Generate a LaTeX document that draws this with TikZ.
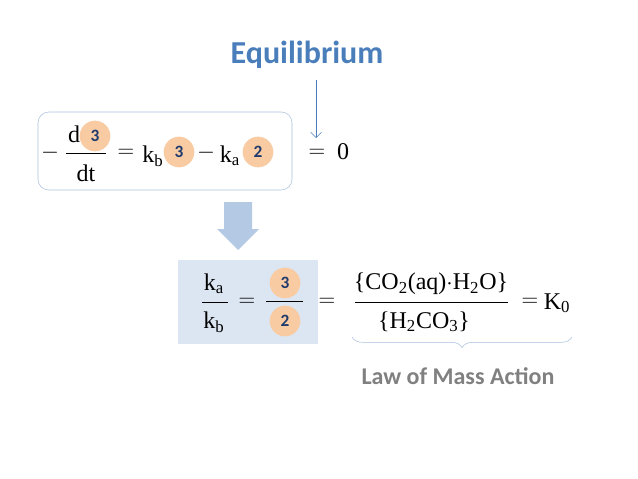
\documentclass[tikz,border=0pt]{standalone}
\usepackage{fontspec}
\setmainfont{Liberation Serif}
\newfontfamily\calib{Carlito}
\usetikzlibrary{arrows.meta,decorations.pathreplacing}
\definecolor{titleblue}{HTML}{4A7EBB}
\definecolor{ballfill}{HTML}{F9CBA2}
\definecolor{balltext}{HTML}{1F3B6E}
\definecolor{boxline}{HTML}{A9C1DE}
\definecolor{shadebox}{HTML}{DCE6F2}
\definecolor{blockarrow}{HTML}{B4C9E3}
\tikzset{
  ball/.style={circle,fill=ballfill,minimum size=23pt,inner sep=0pt,
    font=\calib\bfseries\fontsize{13}{13}\selectfont,text=balltext},
  eq/.style={inner sep=0pt,font=\fontsize{18}{18}\selectfont},
}
\begin{document}
\begin{tikzpicture}[x=0.75pt,y=-0.75pt]
	\useasboundingbox (0,0) rectangle (638,478);
	% title and pointer
	\node[font=\calib\bfseries\fontsize{24}{24}\selectfont,text=titleblue] (title) at (307,55) {Equilibrium};
	\coordinate (ptop) at (316,80);
	\coordinate (pend) at (316,138);
	\draw[titleblue,thin,-{Straight Barb[length=4pt]}] (ptop) -- (pend);
	% rate equation
	\draw[boxline,rounded corners=8pt] (38,112) rectangle (292,190);
	\node[eq] (minus1) at (50,153) {$-$};
	\node[eq] (d) at (74,134) {d};
	\node[eq] (dt) at (86,173) {dt};
	\draw[thin] (66,153) -- (106,153);
	\node[ball] (c1) at (95,136) {3};
	\node[eq] (eq1) at (126,153) {$=$};
	\node[eq] (kb) at (153,156) {k\textsubscript{b}};
	\node[ball] (c2) at (179,152) {3};
	\node[eq] (minus2) at (206,153) {$-$};
	\node[eq] (ka) at (230,156) {k\textsubscript{a}};
	\node[ball] (c3) at (258,152) {2};
	\node[eq] (eq2) at (317,153) {$=$};
	\node[eq] (zero) at (343,152) {0};
	% block arrow
	\fill[blockarrow] (224,202) -- (252,202) -- (252,229) -- (259,229) -- (238,250)
	  -- (217,229) -- (224,229) -- cycle;
	% equilibrium constant
	\fill[shadebox] (178,260) rectangle (318,344);
	\node[eq] (ka2) at (214,284) {k\textsubscript{a}};
	\node[eq] (kb2) at (214,322) {k\textsubscript{b}};
	\draw[thin] (202,302) -- (228,302);
	\node[eq] (eq3) at (247,302) {$=$};
	\draw[thin] (266,301) -- (303,301);
	\node[ball] (c4) at (285,283) {3};
	\node[ball] (c5) at (285,321) {2};
	\node[eq] (eq4) at (327,302) {$=$};
	\node[eq] (num) at (431,284) {\{CO\textsubscript{2}(aq)$\cdot$H\textsubscript{2}O\}};
	\node[eq] (den) at (424,322) {\{H\textsubscript{2}CO\textsubscript{3}\}};
	\draw[thin] (355,302) -- (508,302);
	\node[eq] (eq5) at (530,302) {$=$};
	\node[eq] (k0) at (557,303) {K\textsubscript{0}};
	% law of mass action
	\coordinate (bl) at (352,337);
	\coordinate (br) at (572,337);
	\draw[boxline,decorate,decoration={brace,amplitude=8pt,mirror}] (bl) -- (br);
	\node[font=\calib\bfseries\fontsize{18}{18}\selectfont,text=gray] (law) at (458,376) {Law of Mass Action};
\end{tikzpicture}
\end{document}
